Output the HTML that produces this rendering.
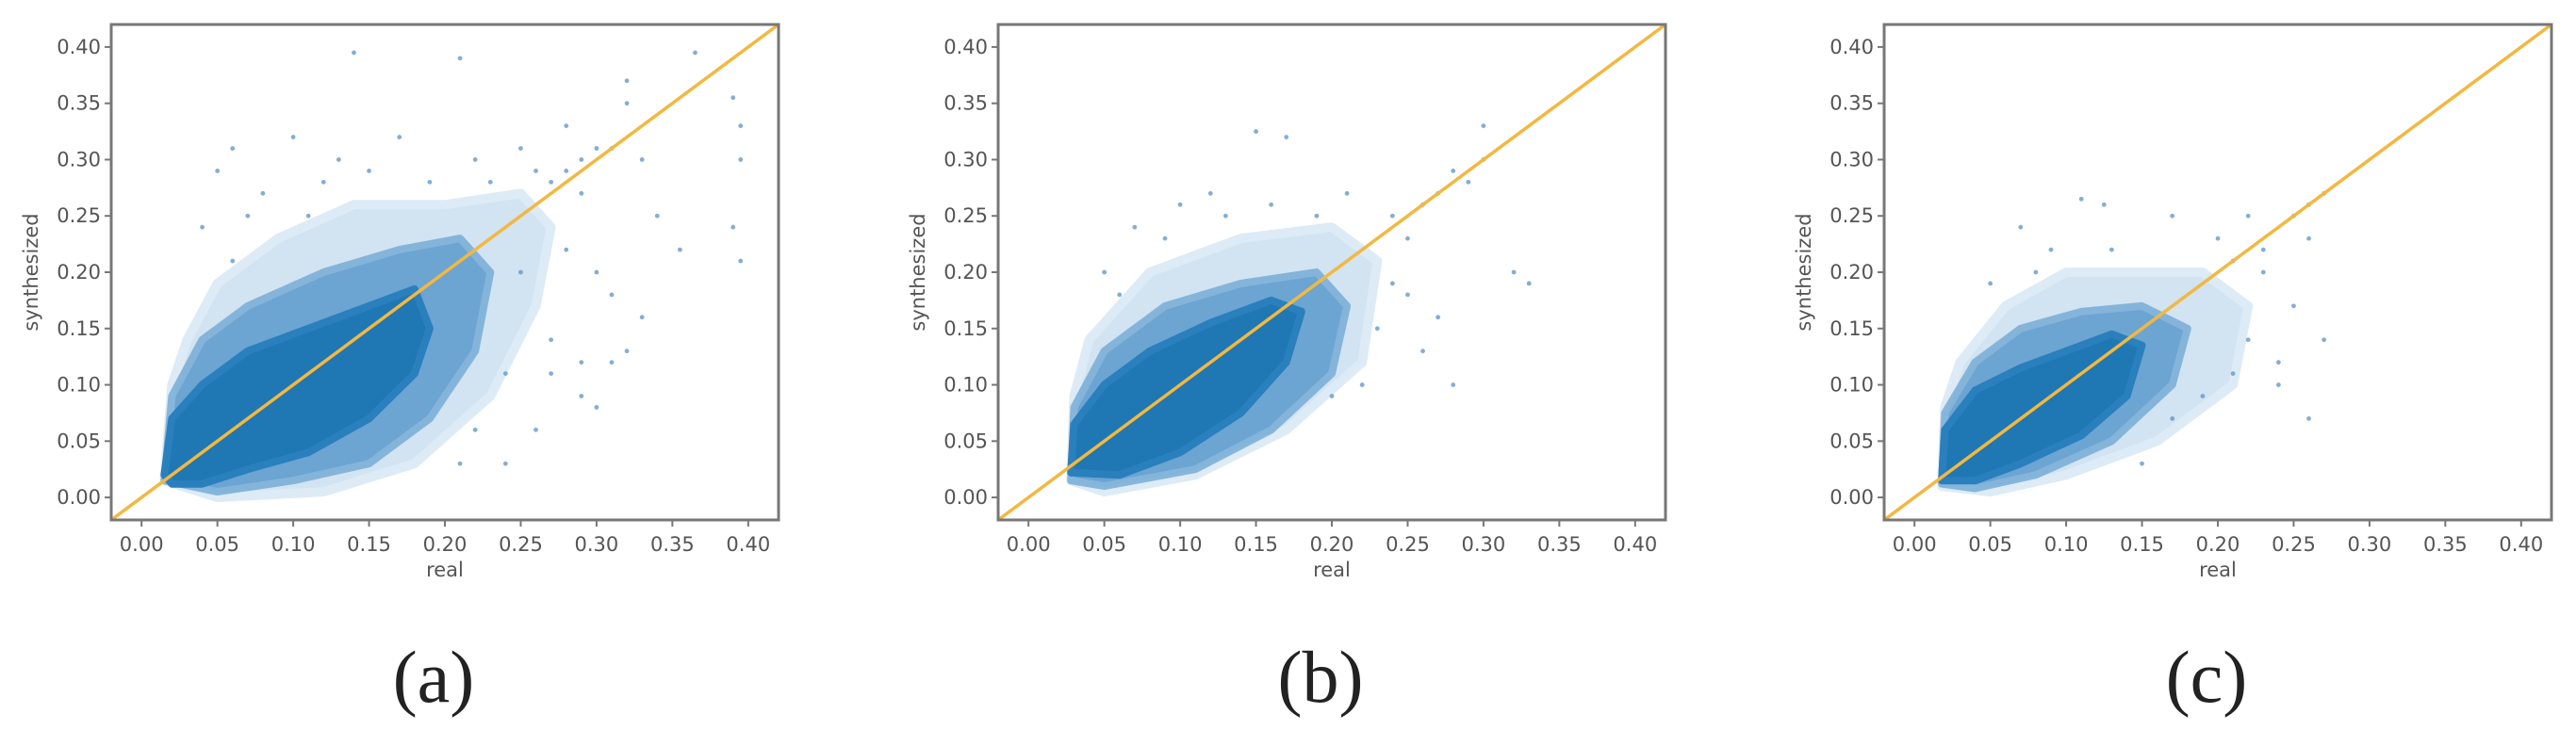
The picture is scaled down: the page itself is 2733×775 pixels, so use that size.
<!DOCTYPE html>
<html><head><meta charset="utf-8"><style>
html,body{margin:0;padding:0;background:#fff;}
svg{display:block;}
</style></head><body>
<svg id="fig" width="2733" height="775" viewBox="0 0 2733 775" xmlns="http://www.w3.org/2000/svg"></svg>
<script>
// ---- data ----
var xTicks = [0, 0.05, 0.10, 0.15, 0.20, 0.25, 0.30, 0.35, 0.40];
var yTicks = [0, 0.05, 0.10, 0.15, 0.20, 0.25, 0.30, 0.35, 0.40];
var tickLabels = ["0.00","0.05","0.10","0.15","0.20","0.25","0.30","0.35","0.40"];
var panelLabels = ["(a)","(b)","(c)"];
var coreA = [[0.015,0.02],[0.02,0.07],[0.04,0.10],[0.07,0.13],[0.11,0.15],[0.15,0.17],[0.18,0.185],[0.19,0.15],[0.18,0.11],[0.15,0.07],[0.11,0.04],[0.07,0.025],[0.04,0.012],[0.02,0.012]];
var midA = [[0.015,0.015],[0.02,0.09],[0.04,0.14],[0.07,0.17],[0.12,0.20],[0.17,0.22],[0.21,0.23],[0.23,0.20],[0.22,0.13],[0.19,0.07],[0.15,0.03],[0.10,0.015],[0.05,0.005]];
var haloA = [[0.015,0.015],[0.02,0.10],[0.03,0.14],[0.05,0.19],[0.09,0.23],[0.14,0.26],[0.20,0.26],[0.25,0.27],[0.27,0.24],[0.26,0.17],[0.23,0.09],[0.18,0.03],[0.12,0.005],[0.05,0.0]];
var coreB = [[0.028,0.022],[0.03,0.065],[0.05,0.10],[0.08,0.13],[0.12,0.155],[0.16,0.175],[0.18,0.165],[0.17,0.12],[0.14,0.075],[0.10,0.04],[0.06,0.02]];
var midB = [[0.028,0.015],[0.03,0.08],[0.05,0.13],[0.09,0.17],[0.14,0.19],[0.19,0.20],[0.21,0.17],[0.20,0.11],[0.16,0.06],[0.11,0.025],[0.05,0.01]];
var haloB = [[0.028,0.015],[0.03,0.09],[0.04,0.14],[0.08,0.20],[0.14,0.23],[0.20,0.24],[0.23,0.21],[0.22,0.12],[0.17,0.06],[0.11,0.02],[0.05,0.005]];
var coreC = [[0.018,0.015],[0.02,0.06],[0.04,0.095],[0.07,0.115],[0.10,0.13],[0.13,0.145],[0.15,0.135],[0.14,0.09],[0.11,0.055],[0.07,0.03],[0.04,0.015]];
var midC = [[0.018,0.012],[0.02,0.075],[0.04,0.12],[0.07,0.15],[0.11,0.165],[0.15,0.17],[0.18,0.15],[0.17,0.10],[0.13,0.05],[0.08,0.02],[0.04,0.008]];
var haloC = [[0.018,0.01],[0.02,0.08],[0.03,0.12],[0.06,0.17],[0.10,0.20],[0.15,0.20],[0.19,0.20],[0.22,0.17],[0.21,0.10],[0.16,0.05],[0.10,0.02],[0.05,0.005]];
var outA = [[0.14,0.395],[0.21,0.39],[0.32,0.37],[0.39,0.355],[0.395,0.33],[0.395,0.30],[0.365,0.395],[0.32,0.35],[0.28,0.33],[0.30,0.31],[0.33,0.30],[0.355,0.22],[0.39,0.24],[0.395,0.21],[0.32,0.13],[0.31,0.12],[0.30,0.08],[0.24,0.03],[0.27,0.11],[0.29,0.09],[0.05,0.29],[0.06,0.31],[0.10,0.32],[0.13,0.30],[0.17,0.32],[0.22,0.30],[0.25,0.31],[0.29,0.27],[0.31,0.18],[0.34,0.25],[0.04,0.24],[0.07,0.25],[0.26,0.06],[0.21,0.03],[0.28,0.29],[0.27,0.28],[0.29,0.30],[0.31,0.31],[0.12,0.28],[0.15,0.29],[0.19,0.28],[0.23,0.28],[0.26,0.29],[0.28,0.22],[0.30,0.20],[0.25,0.20],[0.27,0.14],[0.24,0.11],[0.22,0.06],[0.06,0.21],[0.08,0.27],[0.11,0.25],[0.33,0.16],[0.29,0.12]];
var outB = [[0.15,0.325],[0.17,0.32],[0.30,0.33],[0.30,0.30],[0.33,0.19],[0.32,0.20],[0.28,0.10],[0.27,0.16],[0.26,0.26],[0.25,0.18],[0.24,0.25],[0.12,0.27],[0.10,0.26],[0.07,0.24],[0.05,0.20],[0.21,0.27],[0.29,0.28],[0.26,0.13],[0.23,0.15],[0.20,0.09],[0.27,0.27],[0.28,0.29],[0.25,0.23],[0.24,0.19],[0.22,0.10],[0.09,0.23],[0.13,0.25],[0.16,0.26],[0.19,0.25],[0.06,0.18]];
var outC = [[0.11,0.265],[0.125,0.26],[0.17,0.25],[0.27,0.27],[0.27,0.14],[0.26,0.23],[0.26,0.07],[0.24,0.12],[0.23,0.22],[0.20,0.23],[0.07,0.24],[0.09,0.22],[0.05,0.19],[0.17,0.07],[0.15,0.03],[0.21,0.11],[0.25,0.17],[0.22,0.25],[0.24,0.10],[0.26,0.26],[0.25,0.25],[0.23,0.20],[0.21,0.21],[0.13,0.22],[0.08,0.20],[0.19,0.09],[0.22,0.14]];
var panelCores = [coreA, coreB, coreC];
var panelMids = [midA, midB, midC];
var panelHalos = [haloA, haloB, haloC];
var panelOutliers = [outA, outB, outC];

// ---- layout ----
var NS = "http://www.w3.org/2000/svg";
var svg = document.getElementById('fig');
var frames = [{l:118,r:826},{l:1059,r:1767},{l:1999,r:2707}];
var top0 = 26, bot0 = 552, xmin = -0.02, xmax = 0.42, ymin = -0.02, ymax = 0.42;
function mk(tag, attrs, parent){ var e = document.createElementNS(NS, tag); for (var k in attrs) e.setAttribute(k, attrs[k]); (parent||svg).appendChild(e); return e; }

frames.forEach(function(f, i){
  var g = mk('g', {});
  
  
  function X(v){ return f.l + (v - xmin) / (xmax - xmin) * (f.r - f.l); }
  function Y(v){ return bot0 - (v - ymin) / (ymax - ymin) * (bot0 - top0); }
  var clipId = 'clip' + i;
  var cp = mk('clipPath', {id: clipId}, g);
  mk('rect', {x: f.l, y: top0, width: f.r - f.l, height: bot0 - top0}, cp);
  var plot = mk('g', {'clip-path': 'url(#' + clipId + ')'}, g);
  function pts(arr){ return arr.map(function(p){ return X(p[0]).toFixed(1) + ',' + Y(p[1]).toFixed(1); }).join(' '); }
  var halo = mk('polygon', {points: pts(panelHalos[i]), fill: '#9cc3e4', opacity: 0.45, stroke: '#b5d3ec', 'stroke-width': 10, 'stroke-linejoin': 'round'}, plot);
  
  
  var mid = mk('polygon', {points: pts(panelMids[i]), fill: '#4a90c8', opacity: 0.75, stroke: '#6aa5d3', 'stroke-width': 8, 'stroke-linejoin': 'round'}, plot);
  
  
  var core = mk('polygon', {points: pts(panelCores[i]), fill: '#1f77b4', stroke: '#2a7fbd', 'stroke-width': 8, 'stroke-linejoin': 'round'}, plot);
  
  
  panelOutliers[i].forEach(function(p){
    var c = mk('circle', {cx: X(p[0]), cy: Y(p[1]), r: 2.4, fill: '#5b93c4', opacity: 0.75}, plot);
    
    
  });
  var diag = mk('line', {x1: X(xmin), y1: Y(xmin), x2: X(xmax), y2: Y(xmax), stroke: '#f2b840', 'stroke-width': 3.5}, plot);
  
  
  var fr = mk('rect', {x: f.l, y: top0, width: f.r - f.l, height: bot0 - top0, fill: 'none', stroke: '#777', 'stroke-width': 3}, g);
  
  
  xTicks.forEach(function(v, k){
    mk('line', {x1: X(v), y1: bot0, x2: X(v), y2: bot0 + 7, stroke: '#777', 'stroke-width': 2}, g);
    var t = mk('text', {x: X(v), y: bot0 + 33, 'text-anchor': 'middle', 'font-family': 'DejaVu Sans, Liberation Sans, sans-serif', 'font-size': 21, fill: '#555'}, g);
    t.textContent = tickLabels[k];
    
    
  });
  yTicks.forEach(function(v, k){
    mk('line', {x1: f.l - 7, y1: Y(v), x2: f.l, y2: Y(v), stroke: '#777', 'stroke-width': 2}, g);
    var t = mk('text', {x: f.l - 11, y: Y(v) + 7, 'text-anchor': 'end', 'font-family': 'DejaVu Sans, Liberation Sans, sans-serif', 'font-size': 21, fill: '#555'}, g);
    t.textContent = tickLabels[k];
    
    
  });
  var xl = mk('text', {x: (f.l + f.r) / 2, y: bot0 + 60, 'text-anchor': 'middle', 'font-family': 'DejaVu Sans, Liberation Sans, sans-serif', 'font-size': 21, fill: '#555'}, g);
  xl.textContent = 'real';
  
  
  var yx = f.l - 78, yy = (top0 + bot0) / 2;
  var yl = mk('text', {x: yx, y: yy, 'text-anchor': 'middle', transform: 'rotate(-90 ' + yx + ' ' + yy + ')', 'font-family': 'DejaVu Sans, Liberation Sans, sans-serif', 'font-size': 21, fill: '#555'}, g);
  yl.textContent = 'synthesized';
  
  
  var pl = mk('text', {x: (f.l + f.r) / 2 - 12, y: 745, 'text-anchor': 'middle', 'font-family': 'Liberation Serif, DejaVu Serif, serif', 'font-size': 78, fill: '#222'}, g);
  pl.textContent = panelLabels[i];
  
  
});
</script>
</body></html>
